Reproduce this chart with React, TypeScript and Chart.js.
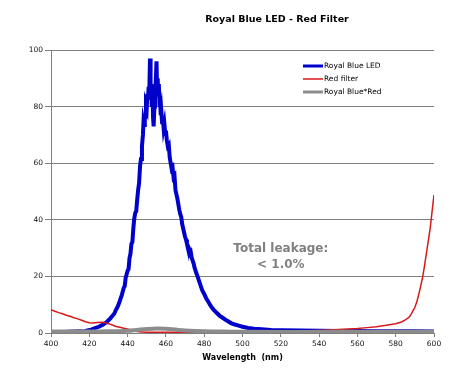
import React, { useEffect, useRef } from 'react';
import { Chart, registerables } from 'chart.js';

Chart.register(...registerables);

const chartTitle = 'Royal Blue LED - Red Filter';
const xAxisTitle = 'Wavelength  (nm)';
const seriesLabels = ['Royal Blue LED', 'Red filter', 'Royal Blue*Red'];
const noteLines = ['Total leakage:', '< 1.0%'];
const xTicks = [400, 420, 440, 460, 480, 500, 520, 540, 560, 580, 600];
const yTicks = [0, 20, 40, 60, 80, 100];

const blueX = [400, 403, 406, 409, 412, 415, 417, 419, 421, 423, 425, 427, 429, 431, 432, 433, 434, 435, 436, 437, 438, 438.5, 439, 440, 440.5, 441, 441.5, 442, 442.5, 443, 443.5, 444, 444.5, 445, 445.5, 446, 446.5, 447, 447.5, 448, 448.3, 448.6, 449, 449.3, 449.6, 450, 450.3, 450.6, 451, 451.3, 451.7, 452, 452.3, 452.6, 453, 453.3, 453.6, 454, 454.3, 454.7, 455.1, 455.4, 455.7, 456, 456.3, 456.7, 457, 457.3, 457.6, 458, 458.4, 458.8, 459.2, 459.6, 460, 460.5, 461, 461.5, 462, 462.5, 463, 463.5, 464, 464.5, 465, 465.5, 466, 466.5, 467, 467.5, 468, 468.5, 469, 469.5, 470, 470.5, 471, 472, 472.5, 473, 473.5, 474, 474.5, 475, 476, 477, 478, 479, 480, 481, 482, 483, 484, 485, 486, 487, 488, 490, 492, 494, 496, 498, 500, 503, 506, 510, 515, 520, 530, 540, 550, 560, 570, 580, 590, 600];
const blueY = [0.2, 0.3, 0.2, 0.4, 0.5, 0.6, 0.5, 0.9, 1.2, 1.7, 2.2, 2.9, 3.8, 5.2, 6.0, 6.8, 8.3, 9.6, 11.5, 13.5, 16.0, 16.6, 19.5, 22.0, 22.6, 26.5, 28.0, 31.5, 32.2, 37.0, 40.5, 42.5, 43.0, 47.0, 50.5, 53.0, 59.0, 61.5, 66.0, 70.0, 74.5, 73.5, 77.5, 76.5, 80.5, 79.5, 84.5, 82.5, 87.0, 84.5, 97.0, 86.0, 88.0, 80.0, 85.0, 76.0, 73.0, 80.0, 84.0, 89.0, 96.0, 86.0, 90.0, 84.0, 88.0, 80.0, 82.0, 77.0, 78.5, 74.5, 76.0, 72.5, 74.0, 71.0, 71.5, 68.0, 66.0, 66.5, 62.0, 60.0, 58.0, 58.5, 55.0, 55.5, 50.5, 49.0, 47.5, 45.5, 43.5, 42.0, 41.0, 38.5, 37.0, 35.5, 34.0, 33.0, 31.5, 30.0, 28.0, 28.5, 26.5, 25.5, 24.5, 23.0, 21.0, 19.0, 17.0, 15.0, 13.8, 12.3, 11.2, 10.0, 9.0, 8.2, 7.5, 6.8, 6.1, 5.2, 4.3, 3.5, 3.0, 2.6, 2.2, 1.8, 1.5, 1.3, 1.1, 1.0, 0.9, 0.8, 0.7, 0.7, 0.6, 0.6, 0.6, 0.5];

const redX = [400, 402, 404, 406, 408, 410, 412, 414, 416, 418, 420, 422, 424, 426, 428, 430, 432, 434, 436, 438, 440, 442, 444, 446, 450, 460, 480, 500, 520, 530, 540, 550, 560, 565, 570, 575, 580, 583, 585, 587, 588, 589, 590, 591, 592, 593, 594, 595, 596, 597, 598, 599, 600];
const redY = [8.2, 7.7, 7.2, 6.8, 6.3, 5.9, 5.4, 5.0, 4.5, 4.0, 3.6, 3.5, 3.7, 3.8, 3.7, 3.3, 2.8, 2.3, 2.0, 1.7, 1.4, 1.0, 0.6, 0.4, 0.3, 0.3, 0.3, 0.3, 0.5, 0.7, 0.9, 1.2, 1.6, 1.9, 2.2, 2.7, 3.3, 3.9, 4.6, 5.6, 6.6, 7.8, 9.0, 11.0, 13.5, 16.5, 19.5, 23.5, 28.0, 32.5, 37.0, 43.0, 48.8];

const leakX = [400, 410, 420, 430, 440, 445, 450, 455, 460, 465, 470, 480, 490, 500, 550, 600];
const leakY = [0.5, 0.5, 0.5, 0.6, 0.8, 1.1, 1.4, 1.6, 1.5, 1.2, 0.9, 0.6, 0.5, 0.4, 0.4, 0.4];

const colors = ['#0000CC', '#D41A1A', '#8C8C8C'];
const widths = [4, 1.5, 4];
const FONT = '"DejaVu Sans", Verdana, sans-serif';

const pts = (xs: number[], ys: number[]) => xs.map((x, i) => ({ x, y: ys[i] }));

const overlay = {
  id: 'overlay',
  afterDatasetsDraw(chart: any) {
    const { ctx, chartArea, scales } = chart;
    ctx.save();
    ctx.fillStyle = '#000';
    ctx.font = `bold 9.5px ${FONT}`;
    ctx.textAlign = 'center';
    ctx.textBaseline = 'middle';
    ctx.fillText(chartTitle, 277, 20);
    ctx.font = `7.5px ${FONT}`;
    ctx.textAlign = 'left';
    const lx = chartArea.left + 252;
    const ly = chartArea.top + 16;
    seriesLabels.forEach((lab, i) => {
      const y = ly + i * 13;
      ctx.strokeStyle = colors[i];
      ctx.lineWidth = i === 1 ? 1.5 : 3;
      ctx.beginPath();
      ctx.moveTo(lx, y);
      ctx.lineTo(lx + 20, y);
      ctx.stroke();
      ctx.fillStyle = '#000';
      ctx.fillText(lab, lx + 21, y + 0.5);
    });
    ctx.fillStyle = '#808080';
    ctx.font = `bold 12px ${FONT}`;
    ctx.textAlign = 'center';
    const nx = scales.x.getPixelForValue(520);
    ctx.fillText(noteLines[0], nx, scales.y.getPixelForValue(29.8));
    ctx.fillText(noteLines[1], nx, scales.y.getPixelForValue(24.1));
    ctx.restore();
  },
};

export default function App() {
  const ref = useRef<HTMLCanvasElement>(null);
  useEffect(() => {
    document.body.style.margin = '0';
    const chart = new Chart(ref.current!, {
      type: 'line',
      data: {
        datasets: [
          { label: seriesLabels[0], data: pts(blueX, blueY), borderColor: colors[0], borderWidth: widths[0], pointRadius: 0, order: 2, tension: 0 },
          { label: seriesLabels[1], data: pts(redX, redY), borderColor: colors[1], borderWidth: widths[1], pointRadius: 0, order: 1, tension: 0 },
          { label: seriesLabels[2], data: pts(leakX, leakY), borderColor: colors[2], borderWidth: widths[2], pointRadius: 0, order: 0, tension: 0.3 },
        ],
      },
      options: {
        animation: false,
        responsive: false,
        layout: { padding: { top: 50, right: 21, left: 0, bottom: 0 } },
        plugins: { legend: { display: false }, tooltip: { enabled: false }, title: { display: false } },
        scales: {
          x: {
            type: 'linear',
            min: 400,
            max: 600,
            afterBuildTicks: (s: any) => { s.ticks = xTicks.map((v) => ({ value: v })); },
            afterFit: (s: any) => { s.height = 45; },
            grid: { drawOnChartArea: false, drawTicks: true, tickLength: 4, color: '#808080' },
            border: { color: '#808080', width: 1 },
            ticks: { color: '#111', font: { family: FONT, size: 7.5 }, padding: 3, maxRotation: 0 },
            title: { display: true, text: xAxisTitle, color: '#000', font: { family: FONT, size: 8, weight: 'bold' }, padding: { top: 4, bottom: 15 } },
          },
          y: {
            type: 'linear',
            min: 0,
            max: 100,
            afterBuildTicks: (s: any) => { s.ticks = yTicks.map((v) => ({ value: v })); },
            afterFit: (s: any) => { s.width = 51; },
            grid: { color: '#808080', tickLength: 6, lineWidth: 1 },
            border: { color: '#808080', width: 1 },
            ticks: { color: '#111', font: { family: FONT, size: 7.5 }, padding: 2 },
          },
        },
      },
      plugins: [overlay],
    });
    return () => chart.destroy();
  }, []);
  return <canvas ref={ref} width={455} height={378} style={{ display: 'block' }} />;
}
